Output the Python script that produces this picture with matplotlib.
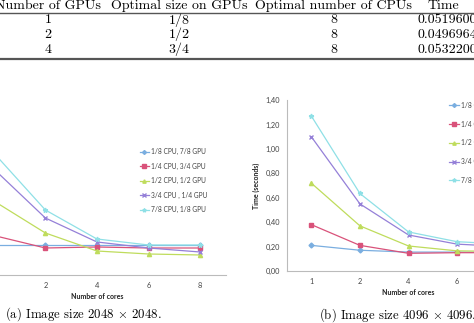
import numpy as np
import matplotlib.pyplot as plt

plt.rcParams['mathtext.fontset'] = 'cm'

# table
gpus = ['1', '2', '4']
sizes = ['1/8', '1/2', '3/4']
cpus = ['8', '8', '8']
times = ['0.0519600', '0.0496964', '0.0532200']
headers = ['Number of GPUs', 'Optimal size on GPUs', 'Optimal number of CPUs', 'Time']

# curves
cores = ['1', '2', '4', '6', '8']
labels = ['1/8 CPU, 7/8 GPU', '1/4 CPU, 3/4 GPU', '1/2 CPU, 1/2 GPU',
          '3/4 CPU , 1/4 GPU', '7/8 CPU, 1/8 GPU']
t2048 = [
    [0.060, 0.060, 0.060, 0.060, 0.060],
    [0.079, 0.054, 0.056, 0.054, 0.054],
    [0.148, 0.084, 0.048, 0.042, 0.040],
    [0.212, 0.114, 0.066, 0.054, 0.046],
    [0.244, 0.130, 0.072, 0.060, 0.060],
]
t4096 = [
    [0.21, 0.17, 0.155, 0.155, 0.15],
    [0.38, 0.21, 0.145, 0.15, 0.15],
    [0.72, 0.37, 0.205, 0.165, 0.16],
    [1.10, 0.55, 0.295, 0.22, 0.20],
    [1.27, 0.635, 0.32, 0.24, 0.22],
]
yticks = [0, 0.2, 0.4, 0.6, 0.8, 1.0, 1.2, 1.4]

colors = ['#7aaee0', '#d9527a', '#bfdc5c', '#9580d8', '#8fe0e6']
markers = ['D', 's', '^', 'x', '*']
msizes = [2.5, 3, 3, 3, 3.5]

fig = plt.figure(figsize=(4.74, 3.23), dpi=100)

# ---- table ----
tab = fig.add_axes([0, 0.8, 1, 0.2])
tab.set_xlim(0, 474)
tab.set_ylim(64.6, 0)
tab.axis('off')
colx = [48, 179, 334, 443]
fs = 10
for x, h in zip(colx, headers):
    tab.text(x, 6, h, ha='center', va='center', family='cmr10', fontsize=fs)
rows_y = [20, 34.5, 49.5]
for i, y in enumerate(rows_y):
    tab.text(colx[0], y, gpus[i], ha='center', va='center', family='cmr10', fontsize=fs)
    tab.text(colx[1], y, sizes[i], ha='center', va='center', family='cmr10', fontsize=fs)
    tab.text(colx[2], y, cpus[i], ha='center', va='center', family='cmr10', fontsize=fs)
    tab.text(418, y, times[i], ha='left', va='center', family='cmr10', fontsize=fs)
tab.axhline(13.3, color='#555555', lw=1.0)
tab.axhline(59.5, color='#555555', lw=1.6)


def style(ax):
    for s in ['top', 'right']:
        ax.spines[s].set_visible(False)
    ax.spines['bottom'].set_color('#bbbbbb')
    ax.spines['left'].set_color('#bbbbbb')
    ax.spines['bottom'].set_linewidth(0.8)
    ax.spines['left'].set_linewidth(0.8)
    ax.tick_params(length=0, labelsize=5.3, colors='#444444', pad=5)
    ax.set_xticks(range(len(cores)))
    ax.set_xticklabels(cores, family='Lato')
    ax.set_xlim(-0.5, len(cores) - 0.5)
    ax.patch.set_alpha(0)


# ---- left chart (2048) ----
ax1 = fig.add_axes([-0.0675, 0.1486, 0.544, 0.542])
for i in range(5):
    ax1.plot(range(len(cores)), t2048[i], color=colors[i], marker=markers[i],
             ms=msizes[i], lw=0.9, label=labels[i])
style(ax1)
ax1.set_ylim(0, 0.35)
ax1.set_yticks([])
ax1.spines['left'].set_visible(False)
ax1.set_xlabel('Number of cores', family='Lato', fontsize=5, fontweight='bold',
               color='#222222', labelpad=3)
ax1.legend(loc='upper left', bbox_to_anchor=(0.295, 0.542), bbox_transform=fig.transFigure,
           frameon=False, prop={'family': 'Lato', 'size': 4.8}, labelcolor='#444444',
           handlelength=1.4, handletextpad=0.3, labelspacing=1.12, markerscale=0.8,
           borderaxespad=0, borderpad=0)

# ---- right chart (4096) ----
ax2 = fig.add_axes([0.6055, 0.161, 0.5127, 0.529])
for i in range(5):
    ax2.plot(range(len(cores)), t4096[i], color=colors[i], marker=markers[i],
             ms=msizes[i], lw=0.9, label=labels[i])
style(ax2)
ax2.set_ylim(0, 1.4)
ax2.set_yticks(yticks)
ax2.set_yticklabels([('%.2f' % v).replace('.', ',') for v in yticks], family='Lato')
ax2.set_ylabel('Time (seconds)', family='Lato', fontsize=5, fontweight='bold',
               color='#222222', labelpad=4)
ax2.set_xlabel('Number of cores', family='Lato', fontsize=5, fontweight='bold',
               color='#222222', labelpad=3)
ax2.legend(loc='upper left', bbox_to_anchor=(0.948, 0.685), bbox_transform=fig.transFigure,
           frameon=False, prop={'family': 'Lato', 'size': 4.8}, labelcolor='#444444',
           handlelength=1.4, handletextpad=0.3, labelspacing=1.75, markerscale=0.8,
           borderaxespad=0, borderpad=0)

# captions
fig.text(5 / 474, 1 - 314 / 323, '(a) Image size 2048 $\\times$ 2048.', family='cmr10',
         fontsize=9.2, va='center', ha='left')
fig.text(319 / 474, 1 - 315.5 / 323, '(b) Image size 4096 $\\times$ 4096.', family='cmr10',
         fontsize=9.2, va='center', ha='left')

fig.savefig('out.png', dpi=100)
